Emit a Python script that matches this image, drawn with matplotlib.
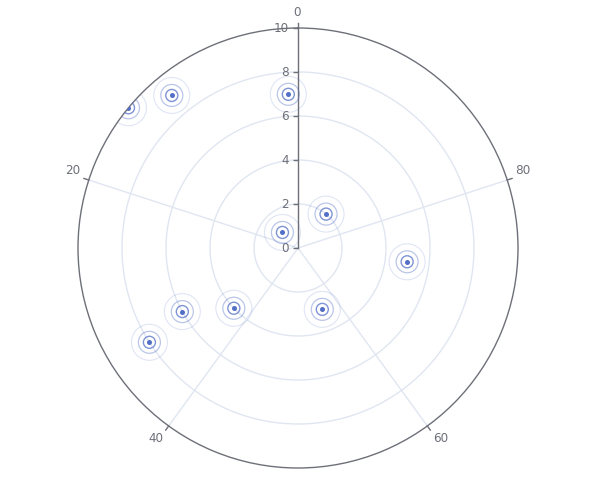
import numpy as np
import matplotlib
matplotlib.use("Agg")
import matplotlib.pyplot as plt

# data: (radius, angle value on 0-100 angle axis)
radius_vals = [10, 9, 7, 2, 1, 5, 3, 4, 6, 8]
angle_vals = [14, 11, 1, 89, 12.5, 73, 56, 37, 33, 34]
radial_ticks = [0, 2, 4, 6, 8, 10]
angle_ticks = [0, 20, 40, 60, 80]

AX_COLOR = "#6e7079"
GRID_COLOR = "#e0e6f1"
PT_COLOR = "#5470c6"

fig = plt.figure(figsize=(6.07, 4.88), dpi=100)
ax = fig.add_axes([78 / 607, 20 / 488, 440 / 607, 440 / 488], projection="polar")
ax.set_theta_zero_location("N")
ax.set_theta_direction(1)
ax.set_ylim(0, 10)
ax.grid(False)
ax.set_xticks([])
ax.set_yticks([])
ax.spines["polar"].set_color(AX_COLOR)
ax.spines["polar"].set_linewidth(1)

def th(v):
    return np.asarray(v) / 100.0 * 2 * np.pi

full = np.linspace(0, 2 * np.pi, 400)
for r in radial_ticks[1:-1]:
    ax.plot(full, np.full_like(full, r), color=GRID_COLOR, lw=1, zorder=1)
for a in angle_ticks[1:]:
    ax.plot([th(a), th(a)], [0, 10], color=GRID_COLOR, lw=1, zorder=1)

# angle ticks and labels (label offsets in px from the tick base, ECharts-like placement)
PX = 0.72
label_offsets = {0: (-1, 16), 20: (-16.5, 9.5), 40: (-13, -12.5), 60: (13, -12.5), 80: (16, 9.5)}
for a in angle_ticks:
    ax.plot([th(a), th(a)], [10, 10.23], color=AX_COLOR, lw=1, clip_on=False, zorder=3)
    ox, oy = label_offsets[a]
    ax.annotate(str(a), xy=(th(a), 10), xytext=(ox * PX, oy * PX), textcoords="offset points",
                color=AX_COLOR, fontsize=8.64, ha="center", va="center", annotation_clip=False)

# radius axis along angle 0
ax.plot([0, 0], [0, 10], color=AX_COLOR, lw=1, zorder=3)
for r in radial_ticks:
    ax.plot([0], [r], marker=0, markersize=3.6, color=AX_COLOR, mew=1, zorder=3, clip_on=False)
    ax.annotate(str(r), xy=(0, r), xytext=(-6.5, 0), textcoords="offset points",
                color=AX_COLOR, fontsize=8.64, ha="right", va="center")

t = th(angle_vals)
ax.scatter(t, radius_vals, s=671, facecolors="none", edgecolors=PT_COLOR, linewidths=0.8, alpha=0.18, zorder=4)
ax.scatter(t, radius_vals, s=251, facecolors="none", edgecolors=PT_COLOR, linewidths=0.9, alpha=0.4, zorder=4)
ax.scatter(t, radius_vals, s=75, facecolors="none", edgecolors=PT_COLOR, linewidths=1.0, alpha=0.75, zorder=4)
ax.scatter(t, radius_vals, s=13, color=PT_COLOR, linewidths=0, zorder=5)

fig.savefig("out.png", dpi=100)
